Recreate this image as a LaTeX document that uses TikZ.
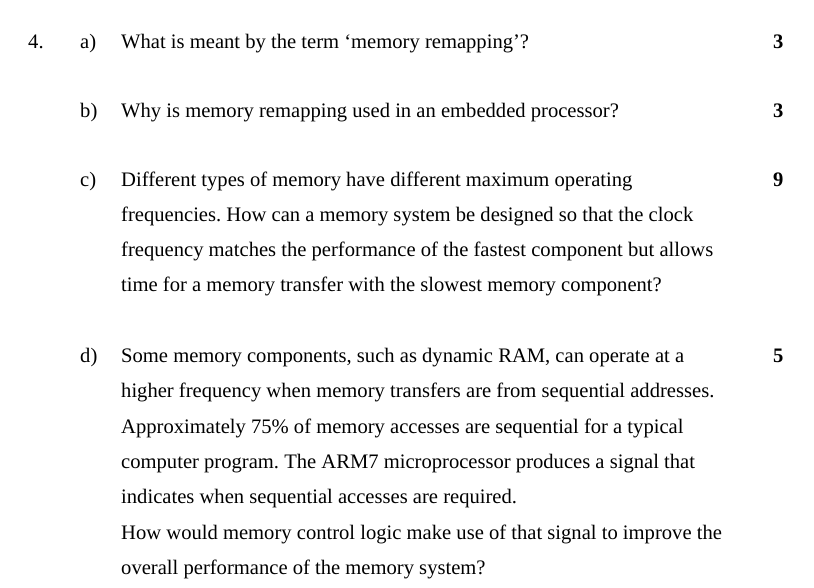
\documentclass[tikz,border=0pt]{standalone}
\usepackage{fontspec}
\setmainfont{Liberation Serif}
\begin{document}
\frenchspacing
\begin{tikzpicture}[x=1pt,y=-1pt,
  txt/.style={anchor=base west,inner sep=0pt,font=\fontsize{20.6}{20.6}\selectfont},
  mk/.style={anchor=base west,inner sep=0pt,font=\fontsize{20.6}{20.6}\selectfont\bfseries}]
\useasboundingbox[fill=white] (0,0) rectangle (814,587);
\node[txt] (n4) at (28,48) {4.};
\node[txt] (la) at (80,48) {a)};
\node[txt] (ta) at (121,48) {What is meant by the term ‘memory remapping’?};
\node[mk] (ma) at (773,48) {3};
\node[txt] (lb) at (80,117) {b)};
\node[txt] (tb) at (121,117) {Why is memory remapping used in an embedded processor?};
\node[mk] (mb) at (773,117) {3};
\node[txt] (lc) at (80,186) {c)};
\node[txt] (c1) at (121,186) {Different types of memory have different maximum operating};
\node[txt] (c2) at (121,221) {frequencies. How can a memory system be designed so that the clock};
\node[txt] (c3) at (121,256) {frequency matches the performance of the fastest component but allows};
\node[txt] (c4) at (121,291) {time for a memory transfer with the slowest memory component?};
\node[mk] (mc) at (773,186) {9};
\node[txt] (ld) at (80,362) {d)};
\node[txt] (d1) at (121,362) {Some memory components, such as dynamic RAM, can operate at a};
\node[txt] (d2) at (121,397) {higher frequency when memory transfers are from sequential addresses.};
\node[txt] (d3) at (121,433) {Approximately 75\% of memory accesses are sequential for a typical};
\node[txt] (d4) at (121,468) {computer program. The ARM7 microprocessor produces a signal that};
\node[txt] (d5) at (121,503) {indicates when sequential accesses are required.};
\node[txt] (d6) at (121,539) {How would memory control logic make use of that signal to improve the};
\node[txt] (d7) at (121,574) {overall performance of the memory system?};
\node[mk] (md) at (773,362) {5};
\end{tikzpicture}
\end{document}
